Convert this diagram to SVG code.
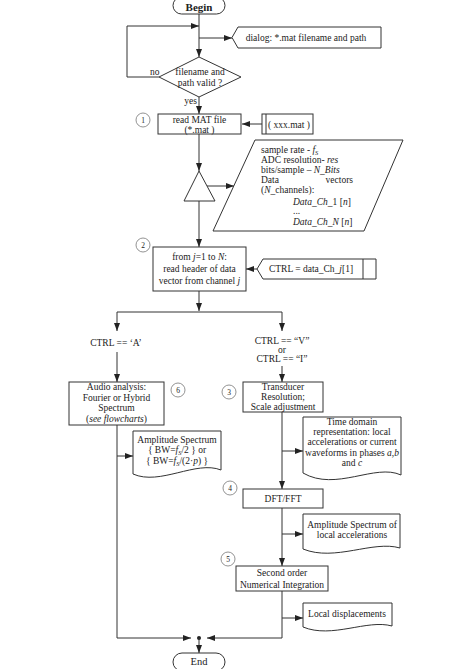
<svg xmlns="http://www.w3.org/2000/svg" width="474" height="669" viewBox="0 0 474 669">
<defs>
<marker id="ah" markerWidth="8" markerHeight="6" refX="8" refY="3" orient="auto" markerUnits="userSpaceOnUse">
<path d="M0,0 L8,3 L0,6 z" fill="#222"/>
</marker>
<style>
.s{fill:#fff;stroke:#333;stroke-width:1}
.c{fill:none;stroke:#333;stroke-width:1;marker-end:url(#ah)}
.l{fill:none;stroke:#333;stroke-width:1}
text{font-family:"Liberation Serif","Times New Roman",serif;font-size:9.5px;fill:#222}
.m{text-anchor:middle}
.i{font-style:italic}
.n{fill:#fff;stroke:#777;stroke-width:0.8}
.nt{font-size:7.5px;text-anchor:middle}
.sub{font-size:6.5px}
</style>
</defs>
<rect width="474" height="669" fill="#fff"/>

<g id="connectors">
<path class="c" d="M199,14 V57"/>
<path class="c" d="M159,77 H127 V26 H199"/>
<path class="c" d="M199,38 H232"/>
<path class="c" d="M199,97 V114"/>
<path class="c" d="M262,124 H242"/>
<path class="c" d="M199,134 V171"/>
<path class="c" d="M207,186 H234"/>
<path class="c" d="M199,201 V247"/>
<path class="c" d="M257,269 H246"/>
<path class="c" d="M199,291 V311"/>
<path class="c" d="M199,312 H117 V331"/>
<path class="c" d="M199,312 H282 V331"/>
<path class="c" d="M117,352 V382"/>
<path class="c" d="M282,366 V382"/>
<path class="c" d="M117,425 V638 H191"/>
<path class="c" d="M117,456 H133"/>
<path class="c" d="M282,412 V489"/>
<path class="c" d="M282,451 H303"/>
<path class="c" d="M282,508 V566"/>
<path class="c" d="M282,534 H303"/>
<path class="c" d="M282,591 V638 H207"/>
<path class="c" d="M282,618 H303"/>
<circle cx="199" cy="638" r="2" fill="#222"/>
<path class="c" d="M199,638 V653"/>
</g>

<g id="begin">
<rect class="s" x="173" y="-3" width="52" height="17" rx="8.5"/>
<text class="m" x="199" y="11" style="font-size:11px;font-weight:bold">Begin</text>
</g>

<g id="dialog">
<path class="s" d="M232,37.5 L238,27 H381 V48 H238 Z"/>
<text class="m" x="306" y="40.5">dialog: *.mat filename and path</text>
</g>

<g id="valid">
<path class="s" d="M199,57 L241,77 L199,97 L159,77 Z"/>
<text class="m" x="200" y="75">filename and</text>
<text class="m" x="200" y="86">path valid ?</text>
<text x="150" y="75">no</text>
<text x="197" y="104" style="text-anchor:end">yes</text>
</g>

<g id="readmat">
<rect class="s" x="158" y="114" width="83" height="20"/>
<text class="m" x="199.5" y="122.5">read MAT file</text>
<text class="m" x="199.5" y="132.5">(*.mat )</text>
</g>

<g id="xxxmat">
<rect class="s" x="262" y="114" width="51" height="20"/>
<line class="l" x1="266" y1="114" x2="266" y2="134"/>
<text class="m" x="289" y="127.5">( xxx.mat )</text>
</g>

<g id="merge">
<path class="s" d="M199,171 L215,201 L184,201 Z"/>
</g>

<g id="data">
<path class="s" d="M255,140 H403 L364,231 H213 Z"/>
<text x="261" y="153">sample rate - <tspan class="i">f</tspan><tspan class="sub i" dy="1.5">S</tspan></text>
<text x="261" y="163">ADC resolution- <tspan class="i">res</tspan></text>
<text x="261" y="173">bits/sample – <tspan class="i">N_Bits</tspan></text>
<text x="261" y="183">Data</text>
<text x="353" y="183" style="text-anchor:end">vectors</text>
<text x="261" y="193">(<tspan class="i">N</tspan>_channels):</text>
<text x="293" y="205"><tspan class="i">Data_Ch_</tspan>1 [<tspan class="i">n</tspan>]</text>
<text x="293" y="214">...</text>
<text x="293" y="225"><tspan class="i">Data_Ch_N</tspan> [<tspan class="i">n</tspan>]</text>
</g>

<g id="n1">
<circle class="n" cx="143" cy="120" r="7"/>
<text class="nt" x="143" y="122.5">1</text>
</g>

<g id="header">
<rect class="s" x="153" y="247" width="93" height="44"/>
<text class="m" x="199.5" y="260">from <tspan class="i">j</tspan>=1 to <tspan class="i">N</tspan>:</text>
<text class="m" x="199.5" y="272">read header of data</text>
<text class="m" x="199.5" y="284">vector from channel <tspan class="i">j</tspan></text>
</g>

<g id="n2">
<circle class="n" cx="143" cy="245" r="7"/>
<text class="nt" x="143" y="247.5">2</text>
</g>

<g id="ctrl">
<path class="s" d="M257,269 L263,259 H376 V279 H263 Z"/>
<line class="l" x1="363" y1="259" x2="363" y2="279"/>
<text class="m" x="311" y="272">CTRL = data_Ch_<tspan class="i">j</tspan>[1]</text>
</g>

<g id="condA">
<text class="m" x="116" y="346">CTRL == ‘A’</text>
</g>

<g id="condVI">
<text class="m" x="282" y="344">CTRL == “V”</text>
<text class="m" x="282" y="353">or</text>
<text class="m" x="282" y="362">CTRL == “I”</text>
</g>

<g id="audio">
<rect class="s" x="69" y="382" width="95" height="43"/>
<text class="m" x="116.5" y="390">Audio analysis:</text>
<text class="m" x="116.5" y="401">Fourier or Hybrid</text>
<text class="m" x="116.5" y="411">Spectrum</text>
<text class="m" x="116.5" y="422">(<tspan class="i">see flowcharts</tspan>)</text>
</g>

<g id="n6">
<circle class="n" cx="178" cy="390" r="7"/>
<text class="nt" x="178" y="392.5">6</text>
</g>

<g id="ampA">
<path class="s" d="M133,431 H221 V470 C196,460 160,486 133,474 Z"/>
<text class="m" x="177" y="443">Amplitude Spectrum</text>
<text class="m" x="177" y="453">{ BW=<tspan class="i">f</tspan><tspan class="sub i" dy="1.5">S</tspan><tspan dy="-1.5">/2 } or</tspan></text>
<text class="m" x="177" y="464">{ BW=<tspan class="i">f</tspan><tspan class="sub i" dy="1.5">S</tspan><tspan dy="-1.5">/(2·</tspan><tspan class="i">p</tspan>) }</text>
</g>

<g id="transducer">
<rect class="s" x="243" y="382" width="80" height="30"/>
<text class="m" x="283" y="390">Transducer</text>
<text class="m" x="283" y="400">Resolution;</text>
<text class="m" x="283" y="410">Scale adjustment</text>
</g>

<g id="n3">
<circle class="n" cx="229" cy="392" r="7"/>
<text class="nt" x="229" y="394.5">3</text>
</g>

<g id="timedomain">
<path class="s" d="M303,417 H401 V475 C375,463 336,492 303,473 Z"/>
<text class="m" x="352" y="425">Time domain</text>
<text class="m" x="352" y="435">representation: local</text>
<text class="m" x="352" y="445">accelerations or current</text>
<text class="m" x="352" y="456">waveforms in phases <tspan class="i">a</tspan>,<tspan class="i">b</tspan></text>
<text class="m" x="352" y="466">and <tspan class="i">c</tspan></text>
</g>

<g id="dft">
<rect class="s" x="243" y="489" width="80" height="19"/>
<text class="m" x="283" y="502">DFT/FFT</text>
</g>

<g id="n4">
<circle class="n" cx="230" cy="488" r="7"/>
<text class="nt" x="230" y="490.5">4</text>
</g>

<g id="ampacc">
<path class="s" d="M303,514 H400 V548 C373,540 335,562 303,549 Z"/>
<text class="m" x="352" y="528">Amplitude Spectrum of</text>
<text class="m" x="352" y="538">local accelerations</text>
</g>

<g id="integration">
<rect class="s" x="236" y="566" width="92" height="25"/>
<text class="m" x="282" y="576">Second order</text>
<text class="m" x="282" y="588">Numerical Integration</text>
</g>

<g id="n5">
<circle class="n" cx="228" cy="559" r="7"/>
<text class="nt" x="228" y="561.5">5</text>
</g>

<g id="displacements">
<path class="s" d="M303,603 H392 V626 C367,619 332,639 303,627 Z"/>
<text class="m" x="347" y="617">Local displacements</text>
</g>

<g id="end">
<rect class="s" x="173" y="653" width="52" height="18" rx="9"/>
<text class="m" x="199" y="665" style="font-size:10.5px">End</text>
</g>
</svg>
